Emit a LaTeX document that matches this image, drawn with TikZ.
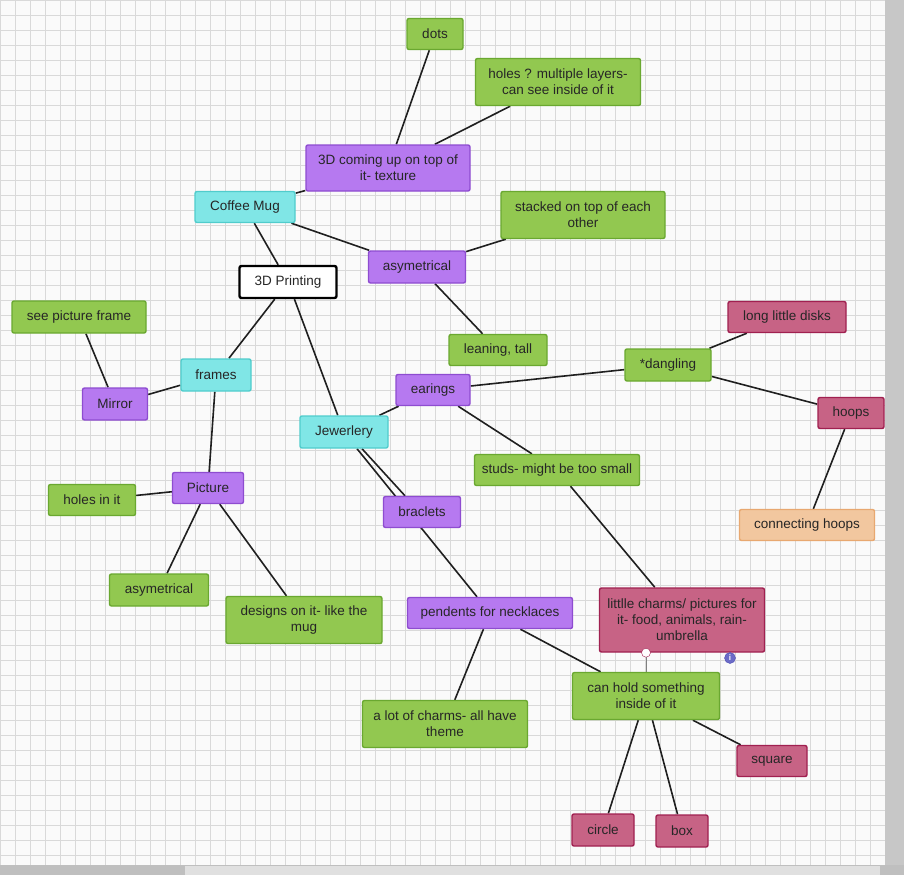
\documentclass[tikz,border=0pt]{standalone}
\usepackage{fontspec}
\setmainfont{Liberation Sans}
\pgfdeclarelayer{gridlayer}\pgfdeclarelayer{edgelayer}
\pgfsetlayers{gridlayer,edgelayer,main}
\begin{document}
\begin{tikzpicture}[x=1pt,y=-1pt,
  base/.style={rounded corners=2pt,line width=1.4pt,align=center,inner sep=0pt,font=\fontsize{13.5}{16}\selectfont,text=black!85},
  gr/.style={base,fill=green1,draw=green2},
  pu/.style={base,fill=purp1,draw=purp2},
  cy/.style={base,fill=cyan1,draw=cyan2},
  pk/.style={base,fill=pink1,draw=pink2},
  pe/.style={base,fill=peach1,draw=peach2},
  ln/.style={line width=1.6pt,black!88}]
\definecolor{green1}{HTML}{92C850}\definecolor{green2}{HTML}{6AA830}
\definecolor{purp1}{HTML}{B679F0}\definecolor{purp2}{HTML}{8E4CD0}
\definecolor{cyan1}{HTML}{80E6E6}\definecolor{cyan2}{HTML}{50CCCC}
\definecolor{pink1}{HTML}{C76385}\definecolor{pink2}{HTML}{A02050}
\definecolor{peach1}{HTML}{F2C79F}\definecolor{peach2}{HTML}{E8A870}
\useasboundingbox (0,0) rectangle (904,875);
\begin{pgfonlayer}{gridlayer}
\fill[white!96!black] (0,0) rectangle (904,875);
\fill[white!98!black] (0,0) rectangle (885,865);
\foreach \i in {0,15,...,885} \draw[black!15,line width=0.5pt] (\i,0) -- (\i,865);
\foreach \j in {0,15,...,865} \draw[black!15,line width=0.5pt] (0,\j) -- (885,\j);
\fill[black!22] (885,0) rectangle (904,875);
\fill[black!25] (0,865) rectangle (904,875);
\fill[black!12] (185,866) rectangle (880,875);
\end{pgfonlayer}
% nodes
\node[gr,minimum width=56,minimum height=31] (dots) at (435,34) {dots};
\node[gr,minimum width=165,minimum height=47] (holes) at (558,82) {holes ? multiple layers-\\can see inside of it};
\node[pu,minimum width=164,minimum height=46] (tex) at (388,168) {3D coming up on top of\\it- texture};
\node[cy,minimum width=100,minimum height=31] (mug) at (245,207) {Coffee Mug};
\node[base,fill=white,draw=black,line width=2.4pt,minimum width=97,minimum height=32] (root) at (288,282) {3D Printing};
\node[pu,minimum width=97,minimum height=32] (asym) at (417,267) {asymetrical};
\node[gr,minimum width=164,minimum height=47] (stack) at (583,215) {stacked on top of each\\other};
\node[gr,minimum width=98,minimum height=31] (lean) at (498,350) {leaning, tall};
\node[pk,minimum width=118,minimum height=31] (disks) at (787,317) {long little disks};
\node[gr,minimum width=86,minimum height=32] (dang) at (668,365) {*dangling};
\node[pu,minimum width=74,minimum height=31] (ear) at (433,390) {earings};
\node[pk,minimum width=66,minimum height=31] (hoops) at (851,413) {hoops};
\node[gr,minimum width=134,minimum height=32] (spf) at (79,317) {see picture frame};
\node[cy,minimum width=70,minimum height=32] (frames) at (216,375) {frames};
\node[pu,minimum width=65,minimum height=32] (mirror) at (115,404) {Mirror};
\node[cy,minimum width=88,minimum height=32] (jew) at (344,432) {Jewerlery};
\node[gr,minimum width=165,minimum height=31] (studs) at (557,470) {studs- might be too small};
\node[pe,minimum width=135,minimum height=31] (conn) at (807,525) {connecting hoops};
\node[pu,minimum width=71,minimum height=31] (pic) at (208,488) {Picture};
\node[gr,minimum width=87,minimum height=31] (holesin) at (92,500) {holes in it};
\node[pu,minimum width=77,minimum height=31] (brac) at (422,512) {braclets};
\node[gr,minimum width=99,minimum height=32] (asym2) at (159,590) {asymetrical};
\node[gr,minimum width=156,minimum height=47] (des) at (304,620) {designs on it- like the\\mug};
\node[pu,minimum width=165,minimum height=31] (pend) at (490,613) {pendents for necklaces};
\node[pk,minimum width=165,minimum height=64] (charms) at (682,620) {littlle charms/ pictures for\\it- food, animals, rain-\\umbrella};
\node[gr,minimum width=147,minimum height=47] (hold) at (646,696) {can hold something\\inside of it};
\node[gr,minimum width=165,minimum height=47] (lot) at (445,724) {a lot of charms- all have\\theme};
\node[pk,minimum width=70,minimum height=31] (square) at (772,761) {square};
\node[pk,minimum width=62,minimum height=32] (circle) at (603,830) {circle};
\node[pk,minimum width=52,minimum height=32] (box) at (682,831) {box};
% edges
\begin{pgfonlayer}{edgelayer}
\draw[ln] (tex) -- (dots); \draw[ln] (tex) -- (holes);
\draw[ln] (tex) -- (mug); \draw[ln] (mug) -- (root); \draw[ln] (mug) -- (asym);
\draw[ln] (asym) -- (stack); \coordinate (a1) at ([xshift=18]asym.south); \draw[ln] (a1) -- (lean);
\draw[ln] (root) -- (frames); \draw[ln] (root) -- (jew);
\draw[ln] (frames) -- (mirror); \draw[ln] (mirror) -- (spf);
\draw[ln] (frames) -- (pic); \draw[ln] (pic) -- (holesin); \draw[ln] (pic) -- (asym2); \draw[ln] (pic) -- (des);
\draw[ln] (jew) -- (ear);
\coordinate (j1) at ([xshift=13]jew.south); \coordinate (j2) at ([xshift=18]jew.south);
\coordinate (p1) at ([xshift=-13]pend.north);
\draw[ln] (j1) -- (p1); \draw[ln] (j2) -- ([xshift=-17]brac.north);
\draw[ln] (ear) -- (dang); \draw[ln] (dang) -- (disks); \draw[ln] (dang) -- (hoops); \draw[ln] (hoops) -- (conn);
\draw[ln] (ear) -- (studs); \draw[ln] (studs) -- (charms);
\draw[ln] (pend) -- (lot); \draw[ln] (pend) -- (hold);
\coordinate (c1) at (charms.south -| hold.north);
\draw[black!50,line width=0.8pt] (c1) -- (hold.north);
\draw[ln] (hold) -- (square); \draw[ln] (hold) -- (circle); \draw[ln] (hold) -- (box);
\end{pgfonlayer}
\node[circle,draw=pink2,fill=white,inner sep=0pt,minimum size=9pt] (dot) at (c1) {};
\node[circle,fill=blue!45!gray!80,draw=blue!40!gray,inner sep=0pt,minimum size=11pt,text=white,font=\bfseries\fontsize{8}{8}\selectfont] (info) at (730,658) {i};
\end{tikzpicture}
\end{document}
